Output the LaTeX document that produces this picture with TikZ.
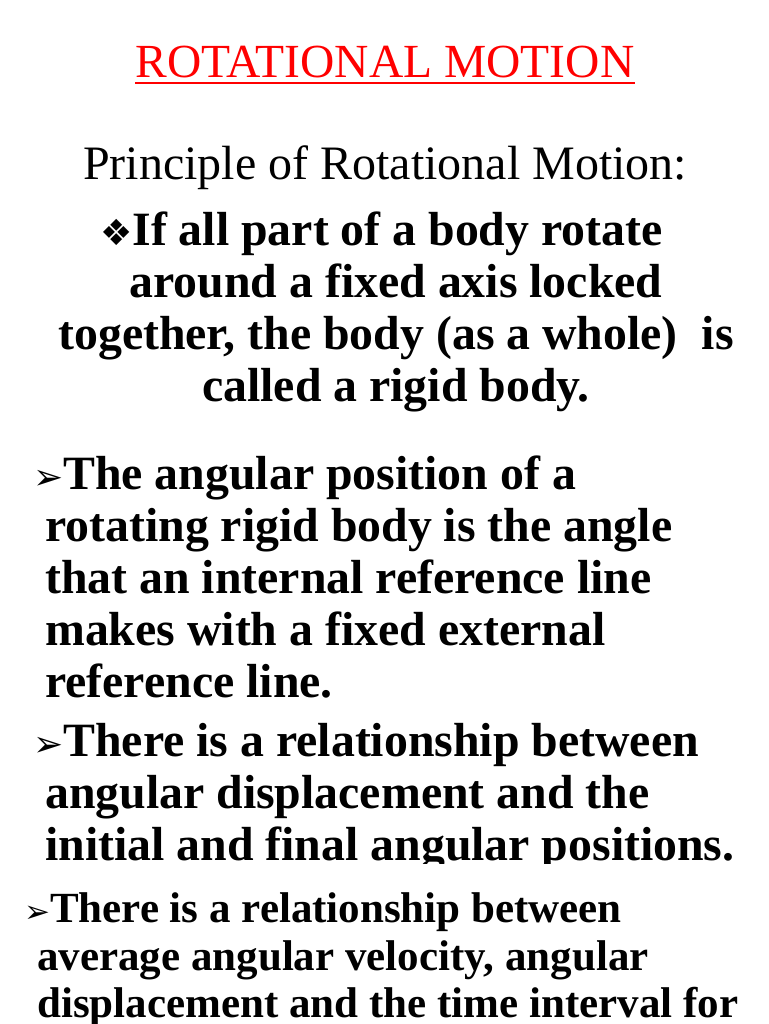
\documentclass[tikz,border=0pt]{standalone}
\usepackage{fontspec}
\setmainfont{Liberation Serif}
\newfontfamily\symf{DejaVu Sans}
\begin{document}
\begin{tikzpicture}[x=1pt,y=-1pt,
  t/.style={inner sep=0pt,font=\fontsize{47.8}{48}\selectfont\bfseries},
  s/.style={inner sep=0pt,font=\fontsize{43}{43}\selectfont\bfseries}]
\useasboundingbox (0,0) rectangle (768,1024);
\node[inner sep=0pt,anchor=base,text=red,font=\fontsize{47.5}{48}\selectfont] (ti) at (385,78) {ROTATIONAL MOTION};
\draw[red,line width=2pt] ([yshift=-5pt]ti.base west) -- ([yshift=-5pt]ti.base east);
\node[inner sep=0pt,anchor=base,font=\fontsize{48}{48}\selectfont] (pr) at (385,180) {Principle of Rotational Motion:};
\node[t,anchor=base west] (b1) at (100,245) {{\symf\fontsize{36}{36}\selectfont ❖}If all part of a body rotate};
\node[t,anchor=base] (b1b) at (396,297) {around a fixed axis locked};
\node[t,anchor=base] (b1c) at (396,349) {together, the body (as a whole)\ \ is};
\node[t,anchor=base] (b1d) at (396,401) {called a rigid body.};
\node[t,anchor=base west] (a0) at (33,489) {{\symf\fontsize{36}{36}\selectfont ➢}The angular position of a};
\node[t,anchor=base west] (a1) at (45,541) {rotating rigid body is the angle};
\node[t,anchor=base west] (a2) at (45,593) {that an internal reference line};
\node[t,anchor=base west] (a3) at (45,645) {makes with a fixed external};
\node[t,anchor=base west] (a4) at (45,697) {reference line.};
\node[t,anchor=base west] (c0) at (33,756) {{\symf\fontsize{36}{36}\selectfont ➢}There is a relationship between};
\node[t,anchor=base west] (c1) at (45,808) {angular displacement and the};
\begin{scope}
\clip (0,820) rectangle (768,863);
\node[t,anchor=base west] (c2) at (45,860) {initial and final angular positions.};
\end{scope}
\node[s,anchor=base west] (d0) at (24,922) {{\symf\fontsize{31}{31}\selectfont ➢}There is a relationship between};
\node[s,anchor=base west] (d1) at (37,970) {average angular velocity, angular};
\node[s,anchor=base west] (d2) at (37,1017) {displacement and the time interval for};
\end{tikzpicture}
\end{document}
